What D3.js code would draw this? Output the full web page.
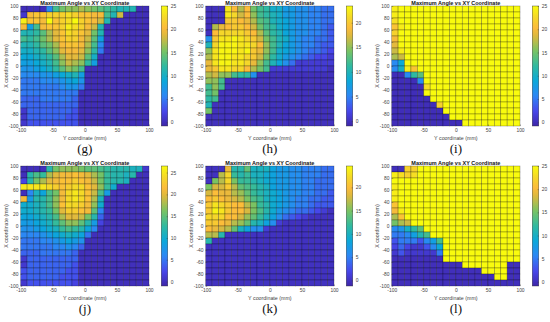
<!DOCTYPE html>
<html>
<head>
<meta charset="utf-8">
<script src="https://cdn.jsdelivr.net/npm/d3@7"></script>
<style>
  body { margin: 0; background: #fff; }
  svg { display: block; }
</style>
</head>
<body>
<div id="chart"></div>
<script>
// grid: columns = Y coordinate (left edge), rows = X coordinate (bottom edge), top row first
const yEdges = [-100, -90, -80, -70, -60, -50, -40, -30, -20, -10, 0, 10, 20, 30, 40, 50, 60, 70, 80, 90];
const xEdges = [90, 80, 70, 60, 50, 40, 30, 20, 10, 0, -10, -20, -30, -40, -50, -60, -70, -80, -90, -100];
const xTicks = [-100, -50, 0, 50, 100];
const yTicks = [-100, -80, -60, -40, -20, 0, 20, 40, 60, 80, 100];
const panelLabels = ['(g)', '(h)', '(i)', '(j)', '(k)', '(l)'];
const colorLimits = [[-0.8, 25], [-1, 23.4], [-0.8, 25], [-1, 26.5], [-1.2, 24.6], [-0.9, 25]];
const colorTicks = [[0, 5, 10, 15, 20, 25], [0, 5, 10, 15, 20], [0, 5, 10, 15, 20, 25],
                    [0, 5, 10, 15, 20, 25], [0, 5, 10, 15, 20], [0, 5, 10, 15, 20, 25]];

const panelG = [
  [0, 0, 0, 0, 6, 13, 15, 16, 16, 17, 16, 15, 14, 13, 12, 11, 11, 11, 0, 0],
  [1, 20, 21, 21, 22, 22, 22, 23, 22, 21, 21, 20, 20, 13, 11, 18, 0, 0, 0, 0],
  [24, 21, 21, 20, 25, 21, 22, 23, 25, 22, 21, 20, 18, 11, 0, 0, 0, 0, 0, 0],
  [20, 8, 13, 20, 21, 21, 22, 24, 23, 22, 20, 18, 11, 0, 0, 0, 0, 0, 0, 0],
  [11, 11, 12, 14, 17, 19, 21, 23, 22, 21, 19, 15, 11, 0, 0, 0, 0, 0, 0, 0],
  [13, 12, 13, 15, 17, 19, 21, 22, 22, 20, 18, 14, 8, 0, 0, 0, 0, 0, 0, 0],
  [11, 11, 12, 14, 15, 17, 20, 21, 21, 20, 17, 13, 6, 0, 0, 0, 0, 0, 0, 0],
  [10, 10, 11, 12, 14, 16, 19, 20, 20, 19, 16, 12, 5, 0, 0, 0, 0, 0, 0, 0],
  [9, 9, 10, 11, 12, 14, 17, 19, 19, 18, 14, 10, 0, 0, 0, 0, 0, 0, 0, 0],
  [8, 8, 9, 10, 11, 13, 16, 18, 17, 16, 12, 8, 0, 0, 0, 0, 0, 0, 0, 0],
  [7, 7, 8, 9, 10, 12, 14, 16, 15, 13, 0, 0, 0, 0, 0, 0, 0, 0, 0, 0],
  [6, 6, 6, 7, 7, 8, 9, 10, 11, 8, 0, 0, 0, 0, 0, 0, 0, 0, 0, 0],
  [5, 5, 5, 6, 6, 6, 7, 8, 9, 7, 0, 0, 0, 0, 0, 0, 0, 0, 0, 0],
  [5, 5, 5, 5, 5, 5, 6, 7, 7, 5, 0, 0, 0, 0, 0, 0, 0, 0, 0, 0],
  [5, 5, 5, 5, 5, 5, 5, 5, 5, 0, 0, 0, 0, 0, 0, 0, 0, 0, 0, 0],
  [4, 4, 4, 5, 5, 5, 5, 5, 4, 0, 0, 0, 0, 0, 0, 0, 0, 0, 0, 0],
  [4, 4, 4, 4, 4, 4, 4, 4, 4, 0, 0, 0, 0, 0, 0, 0, 0, 0, 0, 0],
  [1, 4, 4, 4, 4, 4, 4, 4, 3, 0, 0, 0, 0, 0, 0, 0, 0, 0, 0, 0],
  [1, 4, 4, 4, 4, 4, 4, 3, 3, 0, 0, 0, 0, 0, 0, 0, 0, 0, 0, 0],
  [1, 3, 3, 3, 3, 3, 3, 3, 3, 0, 0, 0, 0, 0, 0, 0, 0, 0, 0, 0]
];

const panelH = [
  [0, 0, 0, 22, 19, 16, 19, 14, 12, 11, 9, 9, 7, 7, 6, 6, 5, 5, 4, 4],
  [0, 0, 0, 22, 21, 17, 19, 15, 12, 11, 10, 9, 7, 7, 6, 6, 5, 5, 4, 4],
  [0, 0, 0, 20, 20, 19, 18, 16, 13, 12, 10, 9, 8, 7, 6, 6, 5, 5, 4, 4],
  [0, 16, 18, 19, 20, 20, 19, 17, 14, 12, 11, 9, 8, 7, 6, 6, 5, 5, 4, 3],
  [0, 19, 21, 21, 21, 21, 20, 19, 16, 13, 11, 10, 8, 7, 6, 6, 5, 5, 4, 3],
  [6, 20, 22, 22, 23, 22, 21, 20, 17, 14, 12, 10, 9, 7, 6, 5, 5, 4, 4, 3],
  [10, 21, 23, 23, 23, 22, 22, 21, 19, 15, 12, 10, 8, 7, 6, 5, 5, 4, 3, 3],
  [15, 22, 23, 23, 23, 22, 23, 20, 18, 15, 12, 9, 8, 7, 6, 5, 4, 4, 3, 2],
  [16, 22, 23, 23, 22, 22, 21, 20, 17, 14, 11, 9, 7, 6, 5, 4, 3, 2, 2, 1],
  [18, 22, 23, 23, 22, 22, 21, 18, 15, 12, 10, 8, 6, 4, 1, 1, 1, 1, 1, 1],
  [18, 20, 22, 22, 21, 21, 19, 16, 14, 12, 1, 1, 1, 1, 1, 1, 1, 1, 1, 0],
  [16, 17, 15, 15, 12, 11, 11, 6, 0, 0, 0, 0, 0, 0, 0, 0, 0, 0, 0, 0],
  [15, 15, 12, 0, 0, 0, 0, 0, 0, 0, 0, 0, 0, 0, 0, 0, 0, 0, 0, 0],
  [12, 15, 12, 0, 0, 0, 0, 0, 0, 0, 0, 0, 0, 0, 0, 0, 0, 0, 0, 0],
  [12, 14, 0, 0, 0, 0, 0, 0, 0, 0, 0, 0, 0, 0, 0, 0, 0, 0, 0, 0],
  [11, 12, 0, 0, 0, 0, 0, 0, 0, 0, 0, 0, 0, 0, 0, 0, 0, 0, 0, 0],
  [10, 0, 0, 0, 0, 0, 0, 0, 0, 0, 0, 0, 0, 0, 0, 0, 0, 0, 0, 0],
  [14, 0, 0, 0, 0, 0, 0, 0, 0, 0, 0, 0, 0, 0, 0, 0, 0, 0, 0, 0],
  [0, 0, 0, 0, 0, 0, 0, 0, 0, 0, 0, 0, 0, 0, 0, 0, 0, 0, 0, 0],
  [0, 0, 0, 0, 0, 0, 0, 0, 0, 0, 0, 0, 0, 0, 0, 0, 0, 0, 0, 0]
];

const panelI = [
  [24, 25, 25, 25, 25, 25, 25, 25, 25, 25, 25, 25, 25, 25, 25, 25, 25, 25, 25, 25],
  [24, 25, 25, 25, 25, 25, 25, 25, 25, 25, 25, 25, 25, 25, 25, 25, 25, 25, 25, 25],
  [23, 25, 25, 25, 25, 25, 25, 25, 25, 25, 25, 25, 25, 25, 25, 25, 25, 25, 25, 25],
  [21, 24, 25, 25, 25, 25, 25, 25, 25, 25, 25, 25, 25, 25, 25, 25, 25, 25, 25, 25],
  [22, 25, 25, 25, 25, 25, 25, 25, 25, 25, 25, 25, 25, 25, 25, 25, 25, 25, 25, 25],
  [20, 25, 25, 25, 25, 25, 25, 25, 25, 25, 25, 25, 25, 25, 25, 25, 25, 25, 25, 25],
  [19, 25, 25, 25, 25, 25, 25, 25, 25, 25, 25, 25, 25, 25, 25, 25, 25, 25, 25, 25],
  [18, 24, 25, 25, 25, 25, 25, 25, 25, 25, 25, 25, 25, 25, 25, 25, 25, 25, 25, 25],
  [17, 18, 25, 25, 25, 25, 25, 25, 25, 25, 25, 25, 25, 25, 25, 25, 25, 25, 25, 25],
  [6, 9, 25, 25, 25, 25, 25, 25, 25, 25, 25, 25, 25, 25, 25, 25, 25, 25, 25, 25],
  [6, 10, 24, 21, 25, 25, 25, 25, 25, 25, 25, 25, 25, 25, 25, 25, 25, 25, 25, 25],
  [0, 0, 6, 12, 14, 25, 25, 25, 25, 25, 25, 25, 25, 25, 25, 25, 25, 25, 25, 25],
  [0, 0, 0, 0, 6, 25, 25, 25, 25, 25, 25, 25, 25, 25, 25, 25, 25, 25, 25, 25],
  [0, 0, 0, 0, 0, 23, 25, 25, 25, 25, 25, 25, 25, 25, 25, 25, 25, 25, 25, 25],
  [0, 0, 0, 0, 0, 25, 25, 25, 25, 25, 25, 25, 25, 25, 25, 25, 25, 25, 25, 25],
  [0, 0, 0, 0, 0, 0, 25, 25, 25, 25, 25, 25, 25, 25, 25, 25, 25, 25, 25, 25],
  [0, 0, 0, 0, 0, 0, 0, 22, 25, 25, 25, 25, 25, 25, 25, 25, 25, 25, 25, 25],
  [0, 0, 0, 0, 0, 0, 0, 0, 25, 25, 25, 25, 25, 25, 25, 25, 25, 25, 25, 25],
  [0, 0, 0, 0, 0, 0, 0, 0, 0, 25, 25, 25, 25, 25, 25, 25, 25, 25, 25, 25],
  [0, 0, 0, 0, 0, 0, 0, 0, 0, 0, 0, 25, 25, 25, 25, 25, 25, 25, 25, 25]
];

const panelJ = [
  [0, 0, 0, 0, 12, 16, 17, 17, 17, 16, 15, 15, 14, 13, 12, 12, 12, 11, 11, 1],
  [0, 12, 14, 13, 18, 20, 21, 21, 22, 21, 20, 18, 16, 13, 12, 12, 11, 12, 0, 0],
  [2, 12, 16, 18, 20, 21, 22, 22, 23, 22, 21, 19, 16, 13, 12, 12, 11, 0, 0, 0],
  [25, 25, 25, 25, 24, 23, 22, 23, 24, 24, 22, 20, 17, 13, 10, 0, 0, 0, 0, 0],
  [0, 6, 11, 9, 14, 16, 21, 24, 25, 24, 22, 19, 14, 8, 0, 0, 0, 0, 0, 0],
  [21, 8, 12, 12, 14, 17, 21, 24, 25, 24, 22, 18, 11, 0, 0, 0, 0, 0, 0, 0],
  [10, 10, 11, 12, 14, 17, 22, 24, 24, 23, 21, 17, 10, 0, 0, 0, 0, 0, 0, 0],
  [10, 10, 11, 12, 13, 16, 20, 23, 23, 22, 21, 15, 6, 0, 0, 0, 0, 0, 0, 0],
  [9, 9, 10, 11, 12, 14, 18, 20, 20, 19, 16, 12, 4, 0, 0, 0, 0, 0, 0, 0],
  [8, 8, 9, 10, 11, 13, 15, 17, 17, 15, 12, 8, 2, 0, 0, 0, 0, 0, 0, 0],
  [7, 7, 8, 9, 10, 11, 13, 14, 13, 12, 9, 6, 0, 0, 0, 0, 0, 0, 0, 0],
  [6, 6, 6, 7, 8, 9, 10, 11, 10, 9, 5, 0, 0, 0, 0, 0, 0, 0, 0, 0],
  [5, 5, 5, 6, 6, 7, 8, 9, 8, 7, 0, 0, 0, 0, 0, 0, 0, 0, 0, 0],
  [5, 5, 5, 5, 5, 6, 6, 7, 6, 4, 0, 0, 0, 0, 0, 0, 0, 0, 0, 0],
  [4, 4, 4, 5, 5, 5, 5, 5, 4, 0, 0, 0, 0, 0, 0, 0, 0, 0, 0, 0],
  [1, 4, 4, 4, 4, 4, 4, 4, 4, 0, 0, 0, 0, 0, 0, 0, 0, 0, 0, 0],
  [1, 4, 4, 4, 4, 4, 4, 4, 3, 0, 0, 0, 0, 0, 0, 0, 0, 0, 0, 0],
  [3, 4, 4, 4, 4, 4, 4, 3, 3, 0, 0, 0, 0, 0, 0, 0, 0, 0, 0, 0],
  [3, 4, 4, 4, 4, 4, 3, 3, 3, 0, 0, 0, 0, 0, 0, 0, 0, 0, 0, 0],
  [1, 3, 3, 3, 3, 3, 3, 3, 2, 0, 0, 0, 0, 0, 0, 0, 0, 0, 0, 0]
];

const panelK = [
  [0, 0, 0, 19, 11, 11, 14, 10, 10, 10, 8, 7, 7, 6, 6, 5, 5, 5, 4, 4],
  [0, 0, 17, 22, 12, 11, 12, 10, 10, 9, 8, 7, 7, 6, 6, 5, 5, 5, 4, 4],
  [0, 15, 17, 22, 15, 12, 12, 11, 10, 9, 8, 7, 7, 6, 6, 5, 5, 4, 4, 4],
  [15, 18, 18, 21, 17, 14, 13, 12, 11, 10, 8, 7, 7, 6, 6, 5, 5, 4, 4, 4],
  [18, 20, 19, 19, 17, 16, 14, 12, 11, 10, 9, 8, 7, 6, 6, 5, 5, 4, 4, 3],
  [20, 21, 20, 19, 18, 17, 15, 13, 12, 10, 9, 8, 7, 6, 5, 5, 4, 4, 3, 3],
  [21, 23, 22, 21, 20, 20, 17, 15, 12, 11, 9, 8, 7, 6, 5, 5, 4, 3, 3, 3],
  [21, 24, 23, 21, 20, 20, 18, 15, 13, 11, 9, 7, 6, 5, 4, 4, 3, 2, 1, 0],
  [22, 22, 22, 20, 20, 18, 16, 14, 12, 10, 8, 6, 4, 3, 2, 1, 0, 0, 0, 0],
  [21, 21, 20, 19, 17, 16, 14, 11, 10, 8, 6, 1, 0, 0, 0, 0, 0, 0, 0, 0],
  [20, 19, 18, 17, 14, 10, 8, 6, 6, 1, 0, 0, 0, 0, 0, 0, 0, 0, 0, 0],
  [17, 17, 11, 0, 0, 0, 0, 0, 0, 0, 0, 0, 0, 0, 0, 0, 0, 0, 0, 0],
  [11, 0, 0, 0, 0, 0, 0, 0, 0, 0, 0, 0, 0, 0, 0, 0, 0, 0, 0, 0],
  [0, 0, 0, 0, 0, 0, 0, 0, 0, 0, 0, 0, 0, 0, 0, 0, 0, 0, 0, 0],
  [0, 0, 0, 0, 0, 0, 0, 0, 0, 0, 0, 0, 0, 0, 0, 0, 0, 0, 0, 0],
  [0, 0, 0, 0, 0, 0, 0, 0, 0, 0, 0, 0, 0, 0, 0, 0, 0, 0, 0, 0],
  [0, 0, 0, 0, 0, 0, 0, 0, 0, 0, 0, 0, 0, 0, 0, 0, 0, 0, 0, 0],
  [0, 0, 0, 0, 0, 0, 0, 0, 0, 0, 0, 0, 0, 0, 0, 0, 0, 0, 0, 0],
  [0, 0, 0, 0, 0, 0, 0, 0, 0, 0, 0, 0, 0, 0, 0, 0, 0, 0, 0, 0],
  [0, 0, 0, 0, 0, 0, 0, 0, 0, 0, 0, 0, 0, 0, 0, 0, 0, 0, 0, 0]
];

const panelL = [
  [0, 0, 22, 22, 25, 25, 25, 25, 25, 25, 25, 25, 25, 25, 25, 25, 25, 25, 25, 25],
  [24, 23, 22, 23, 25, 25, 25, 25, 25, 25, 25, 25, 25, 25, 25, 25, 25, 25, 25, 25],
  [25, 25, 25, 25, 25, 25, 25, 25, 25, 25, 25, 25, 25, 25, 25, 25, 25, 25, 25, 25],
  [24, 25, 25, 25, 25, 25, 25, 25, 25, 25, 25, 25, 25, 25, 25, 25, 25, 25, 25, 25],
  [24, 25, 25, 25, 25, 25, 25, 25, 25, 25, 25, 25, 25, 25, 25, 25, 25, 25, 25, 25],
  [24, 25, 25, 25, 25, 25, 25, 25, 25, 25, 25, 25, 25, 25, 25, 25, 25, 25, 25, 25],
  [21, 25, 25, 25, 25, 25, 25, 25, 25, 25, 25, 25, 25, 25, 25, 25, 25, 25, 25, 25],
  [20, 24, 25, 25, 25, 25, 25, 25, 25, 25, 25, 25, 25, 25, 25, 25, 25, 25, 25, 25],
  [17, 21, 25, 25, 25, 25, 25, 25, 25, 25, 25, 25, 25, 25, 25, 25, 25, 25, 25, 25],
  [15, 17, 18, 25, 25, 25, 25, 25, 25, 25, 25, 25, 25, 25, 25, 25, 25, 25, 25, 25],
  [6, 7, 10, 12, 14, 25, 25, 25, 25, 25, 25, 25, 25, 25, 25, 25, 25, 25, 25, 25],
  [5, 5, 6, 8, 11, 13, 25, 25, 25, 25, 25, 25, 25, 25, 25, 25, 25, 25, 25, 25],
  [3, 5, 5, 5, 3, 6, 8, 13, 25, 25, 25, 25, 25, 25, 25, 25, 25, 25, 25, 25],
  [2, 4, 2, 1, 1, 3, 6, 9, 25, 25, 25, 25, 25, 25, 25, 25, 25, 25, 25, 25],
  [1, 3, 1, 1, 1, 1, 1, 5, 25, 25, 25, 25, 25, 25, 25, 25, 25, 25, 25, 25],
  [0, 0, 0, 0, 0, 0, 0, 0, 25, 25, 25, 25, 25, 25, 25, 25, 25, 25, 25, 25],
  [0, 0, 0, 0, 0, 0, 0, 0, 0, 0, 0, 25, 25, 25, 25, 25, 25, 25, 0, 0],
  [0, 0, 0, 0, 0, 0, 0, 0, 0, 0, 0, 0, 0, 0, 25, 25, 25, 25, 0, 0],
  [0, 0, 0, 0, 0, 0, 0, 0, 0, 0, 0, 0, 0, 0, 0, 0, 25, 25, 0, 0],
  [0, 0, 0, 0, 0, 0, 0, 0, 0, 0, 0, 0, 0, 0, 0, 0, 0, 0, 0, 0]
];

const panels = [panelG, panelH, panelI, panelJ, panelK, panelL];

// parula-like colormap
const parulaStops = [0, 0.125, 0.25, 0.375, 0.5, 0.625, 0.75, 0.82, 0.9, 1];
const parulaColors = ['#3e26a8', '#4747eb', '#2d87f5', '#0aa8da', '#30baa0', '#78c364',
                      '#dcb93e', '#fcbc3a', '#f5d62a', '#f9fb0e'];

const W = 550, H = 322;
const plotW = 128.3, plotH = 120;
const lefts = [20.7, 205.7, 391.7];
const tops = [6, 166];
const cbOffset = 140.5, cbW = 6.6;
const tickColor = '#444';
const sans = '"Liberation Sans", Arial, sans-serif';

const svg = d3.select('#chart').append('svg')
    .attr('width', W)
    .attr('height', H);

const defs = svg.append('defs');
const parulaT = d3.scaleLinear().domain(parulaStops).range(parulaColors).clamp(true);

// one shared gradient for the colorbars (bottom -> top)
const grad = defs.append('linearGradient')
    .attr('id', 'parula')
    .attr('x1', 0).attr('y1', 1).attr('x2', 0).attr('y2', 0);
d3.range(0, 1.0001, 0.02).forEach(t => {
    grad.append('stop').attr('offset', t).attr('stop-color', parulaT(t));
});

panels.forEach((data, i) => {
    const left = lefts[i % 3];
    const top = tops[Math.floor(i / 3)];
    const [cmin, cmax] = colorLimits[i];

    const x = d3.scaleLinear().domain([-100, 100]).range([0, plotW]);
    const y = d3.scaleLinear().domain([-100, 100]).range([plotH, 0]);
    const color = v => parulaT((v - cmin) / (cmax - cmin));

    const g = svg.append('g').attr('transform', `translate(${left}, ${top})`);

    // cells
    const cells = [];
    data.forEach((row, r) => {
        row.forEach((v, c) => cells.push({ r, c, v }));
    });
    g.selectAll('rect.cell')
        .data(cells)
        .enter().append('rect')
        .attr('class', 'cell')
        .attr('x', d => x(yEdges[d.c]))
        .attr('y', d => y(xEdges[d.r] + 10))
        .attr('width', d => x(yEdges[d.c] + 10) - x(yEdges[d.c]))
        .attr('height', d => y(xEdges[d.r]) - y(xEdges[d.r] + 10))
        .style('fill', d => color(d.v))
        .style('stroke', '#000')
        .style('stroke-opacity', 0.4)
        .style('stroke-width', 0.6);

    // axes
    const xAxis = g.append('g')
        .attr('transform', `translate(0, ${plotH})`)
        .call(d3.axisBottom(x).tickValues(xTicks).tickSize(-1.5).tickPadding(2.2).tickFormat(d => String(d)));
    const yAxis = g.append('g')
        .call(d3.axisLeft(y).tickValues(yTicks).tickSize(-1.5).tickPadding(2.2).tickFormat(d => String(d)));
    [xAxis, yAxis].forEach(ax => {
        ax.select('.domain').remove();
        ax.selectAll('line').style('stroke', '#333').style('stroke-width', 0.4);
        ax.selectAll('text')
            .style('font-family', sans)
            .style('font-size', '4.9px')
            .style('fill', tickColor);
    });

    // title
    g.append('text')
        .attr('x', plotW / 2)
        .attr('y', -1.3)
        .attr('text-anchor', 'middle')
        .style('font-family', sans)
        .style('font-size', '5.5px')
        .style('font-weight', 'bold')
        .style('fill', '#111')
        .text('Maximum Angle vs XY Coordinate');

    // axis labels
    g.append('text')
        .attr('x', plotW / 2)
        .attr('y', plotH + 13.5)
        .attr('text-anchor', 'middle')
        .style('font-family', sans)
        .style('font-size', '5.3px')
        .style('fill', tickColor)
        .text('Y coordinate (mm)');
    g.append('text')
        .attr('transform', 'rotate(-90)')
        .attr('x', -plotH / 2)
        .attr('y', -13)
        .attr('text-anchor', 'middle')
        .style('font-family', sans)
        .style('font-size', '5.3px')
        .style('fill', tickColor)
        .text('X coordinate (mm)');

    // colorbar
    const cb = g.append('g').attr('transform', `translate(${cbOffset}, 0)`);
    const cy = d3.scaleLinear().domain([cmin, cmax]).range([plotH, 0]);
    cb.append('rect')
        .attr('width', cbW)
        .attr('height', plotH)
        .style('fill', 'url(#parula)')
        .style('stroke', '#333')
        .style('stroke-width', 0.4);
    const cbAxis = cb.append('g')
        .attr('transform', `translate(${cbW}, 0)`)
        .call(d3.axisRight(cy).tickValues(colorTicks[i]).tickSize(-1.2).tickPadding(3).tickFormat(d => String(d)));
    cbAxis.select('.domain').remove();
    cbAxis.selectAll('line').style('stroke', '#333').style('stroke-width', 0.4);
    cbAxis.selectAll('text')
        .style('font-family', sans)
        .style('font-size', '4.9px')
        .style('fill', tickColor);

    // panel label
    g.append('text')
        .attr('x', plotW / 2)
        .attr('y', plotH + 27)
        .attr('text-anchor', 'middle')
        .style('font-family', '"Liberation Serif", "DejaVu Serif", serif')
        .style('font-size', '13px')
        .style('fill', '#111')
        .text(panelLabels[i]);
});
</script>
</body>
</html>
